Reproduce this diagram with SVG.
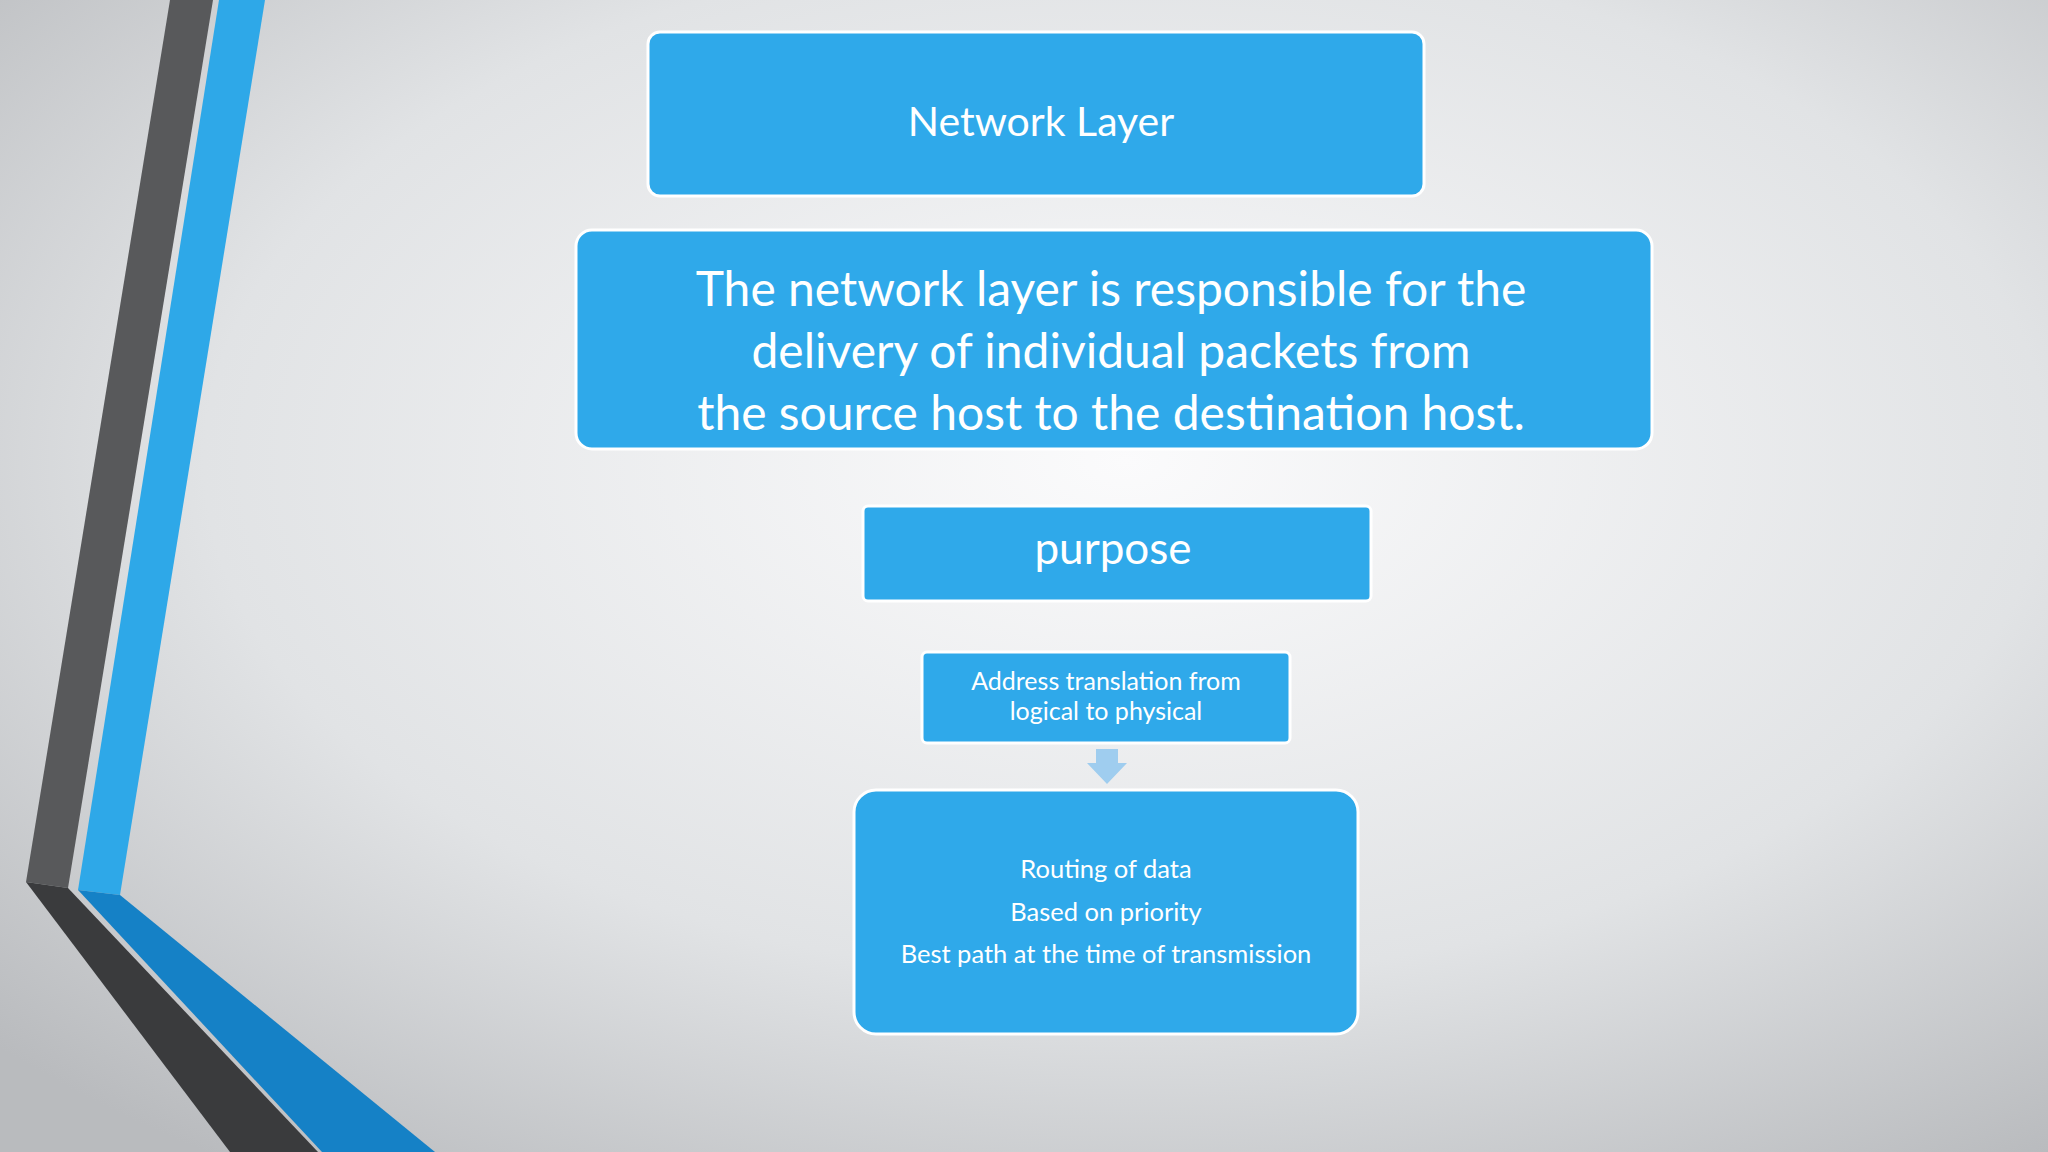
<svg xmlns="http://www.w3.org/2000/svg" width="2048" height="1152" viewBox="0 0 2048 1152">
<defs>
<radialGradient id="bg" cx="0.55" cy="0.4" r="0.75">
<stop offset="0" stop-color="#fbfbfc"/><stop offset="0.6" stop-color="#e1e3e5"/><stop offset="1" stop-color="#b9bbbe"/>
</radialGradient>
<style>
.box{fill:#2fa9ea;stroke:#ffffff;stroke-width:3}
.t{fill:#ffffff;font-family:Lato,"Open Sans",sans-serif;text-anchor:middle}
</style>
</defs>
<rect width="2048" height="1152" fill="url(#bg)"/>
<g id="decor">
<polygon points="170,0 213,0 68,888 26,882" fill="#58595b"/>
<polygon points="219,0 265,0 120,895 78,890" fill="#2ea8e8"/>
<polygon points="26,882 68,888 318,1152 230,1152" fill="#3a3b3d"/>
<polygon points="78,890 120,895 435,1152 322,1152" fill="#1581c6"/>
</g>
<g id="title"><rect class="box" x="648" y="32" width="776" height="164" rx="12"/><text class="t" x="1041" y="136" font-size="41">Network Layer</text></g>
<g id="desc"><rect class="box" x="576" y="230" width="1076" height="219" rx="16"/>
<text class="t" x="1111" y="306" font-size="48">The network layer is responsible for the</text>
<text class="t" x="1111" y="368" font-size="48">delivery of individual packets from</text>
<text class="t" x="1111" y="430" font-size="48">the source host to the destination host.</text></g>
<g id="purpose"><rect class="box" x="863" y="506" width="508" height="95" rx="5"/><text class="t" x="1113" y="564" font-size="44">purpose</text></g>
<g id="address"><rect class="box" x="922" y="652" width="368" height="91" rx="5"/>
<text class="t" x="1106" y="690" font-size="25">Address translation from</text>
<text class="t" x="1106" y="720" font-size="25">logical to physical</text></g>
<g id="connectors"><polygon points="1096,749 1118,749 1118,763 1127,763 1107,784 1087,763 1096,763" fill="#9fcdef"/></g>
<g id="routing"><rect class="box" x="854" y="790" width="504" height="244" rx="22"/>
<text class="t" x="1106" y="878" font-size="25.5">Routing of data</text>
<text class="t" x="1106" y="921" font-size="25.5">Based on priority</text>
<text class="t" x="1106" y="963" font-size="25.5">Best path at the time of transmission</text></g>
</svg>
